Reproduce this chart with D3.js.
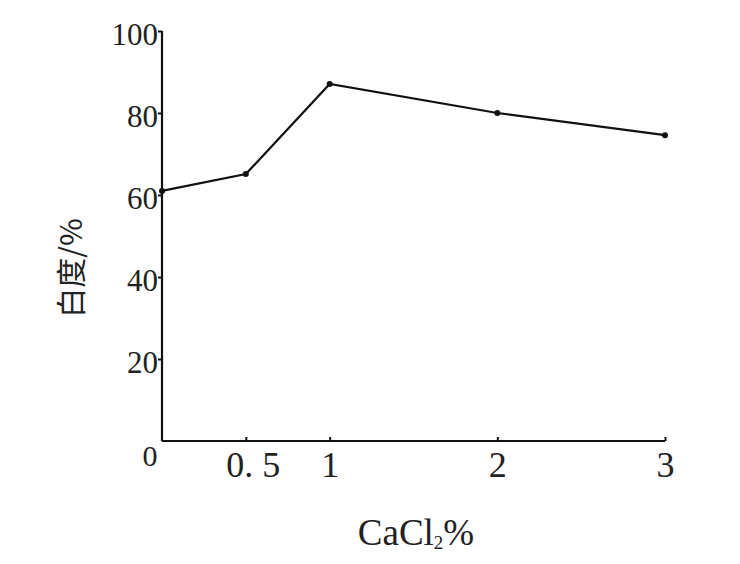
<!DOCTYPE html>
<html><head><meta charset="utf-8">
<script src="https://cdn.jsdelivr.net/npm/d3@7"></script>
<style>
html,body{margin:0;padding:0;background:#fff;}
svg{display:block;}
</style></head>
<body>
<svg id="chart" width="740" height="564"></svg>
<script>
const xValues = [0, 0.5, 1, 2, 3];
const whiteness = [61, 65.1, 87.1, 80, 74.6];
const xTicks = [0.5, 1, 2, 3];
const xTickLabels = ["0. 5", "1", "2", "3"];
const yTicks = [20, 40, 60, 80, 100];
const yTickLabels = ["20", "40", "60", "80", "100"];

const svg = d3.select("#chart");
const x = d3.scaleLinear().domain([0, 3]).range([162, 665]);
const y = d3.scaleLinear().domain([0, 100]).range([441, 31]);
const serif = "'Liberation Serif','DejaVu Serif',serif";

// y axis
const yAxis = d3.axisLeft(y).tickValues(yTicks)
  .tickFormat((d, i) => yTickLabels[i]).tickSize(4).tickPadding(0);
const gy = svg.append("g").attr("transform", `translate(${x(0)},0)`).call(yAxis);
gy.select(".domain").attr("d", `M0,${y(0)}V${y(100)}`).attr("stroke", "#111").attr("stroke-width", 2.2);
gy.selectAll(".tick line").attr("stroke", "#111").attr("stroke-width", 2);
gy.selectAll(".tick text").attr("font-family", serif).attr("font-size", 31)
  .attr("fill", "#222").attr("dy", "0.45em");

// x axis
const xAxis = d3.axisBottom(x).tickValues(xTicks)
  .tickFormat((d, i) => xTickLabels[i]).tickSize(-4).tickPadding(16);
const gx = svg.append("g").attr("transform", `translate(0,${y(0)})`).call(xAxis);
gx.select(".domain").attr("d", `M${x(0)},0H${x(3)}`).attr("stroke", "#111").attr("stroke-width", 2.2);
gx.selectAll(".tick line").attr("stroke", "#111").attr("stroke-width", 2);
gx.selectAll(".tick text").attr("font-family", serif).attr("font-size", 36)
  .attr("fill", "#222").attr("dy", "0.55em")
  .attr("dx", (d, i) => i === 0 ? 7 : 0);

// origin label
svg.append("text").attr("x", x(0) - 12).attr("y", y(0) + 25)
  .attr("text-anchor", "middle").attr("font-family", serif).attr("font-size", 30)
  .attr("fill", "#222").text("0");

// line
const line = d3.line().x((d, i) => x(xValues[i])).y(d => y(d));
svg.append("path").datum(whiteness).attr("d", line)
  .attr("fill", "none").attr("stroke", "#111").attr("stroke-width", 2.2);
svg.selectAll("circle.pt").data(whiteness).enter().append("circle")
  .attr("class", "pt").attr("cx", (d, i) => x(xValues[i])).attr("cy", d => y(d))
  .attr("r", 3).attr("fill", "#111");

// axis titles
const xt = svg.append("text").attr("x", 416).attr("y", 545)
  .attr("text-anchor", "middle").attr("font-family", serif).attr("font-size", 37).attr("fill", "#222");
xt.append("tspan").text("CaCl");
xt.append("tspan").attr("font-size", 19).attr("dy", 4).text("2");
xt.append("tspan").attr("dy", -4).text("%");

svg.append("text").attr("transform", "translate(82,268) rotate(-90)")
  .attr("text-anchor", "middle").attr("font-family", "'Noto Sans CJK SC',sans-serif")
  .attr("font-size", 30).attr("fill", "#222").text("白度/%");
</script>
</body></html>
